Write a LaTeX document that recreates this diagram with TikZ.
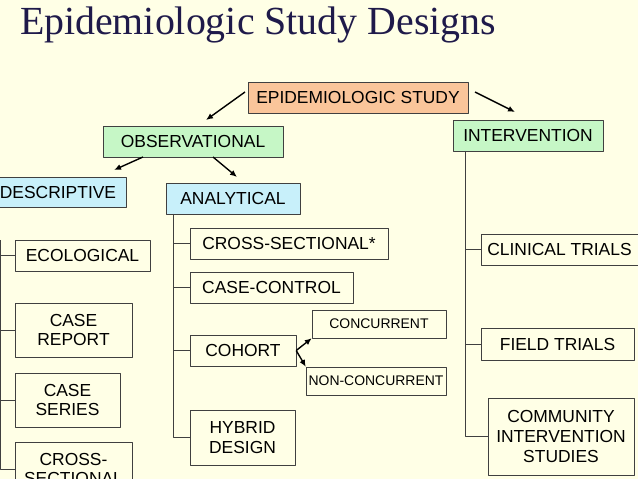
\documentclass[tikz,border=0pt]{standalone}
\usepackage{fontspec}
\setmainfont{Liberation Sans}
\newfontfamily\titlefont{Liberation Serif}
\definecolor{pagebg}{HTML}{FFFFE6}
\definecolor{rootfill}{HTML}{FAC59A}
\definecolor{midfill}{HTML}{C6F7C6}
\definecolor{lowfill}{HTML}{C8F0FA}
\definecolor{titlecol}{HTML}{1F1A4A}
\tikzset{
  box/.style={draw=black!75,inner sep=0pt,align=center,font=\fontsize{17.5}{20}\selectfont},
  smallbox/.style={box,font=\fontsize{14}{16}\selectfont},
  arr/.style={-{Latex[length=7bp,width=6bp]},line width=1.4bp},
  tree/.style={draw=black!75}
}
\usetikzlibrary{arrows.meta}
\begin{document}
\begin{tikzpicture}[x=1bp,y=-1bp,line join=bevel]
\fill[pagebg] (0,0) rectangle (638,479);
\useasboundingbox (0,0) rectangle (638,479);
\begin{scope}
\clip (0,0) rectangle (638,479);
\node (title) at (258,25) [anchor=center,text=titlecol,font=\titlefont\fontsize{40}{44}\selectfont] {Epidemiologic Study Designs};
%%
\node (study) at (358,97.5) [box,fill=rootfill,minimum width=220bp,minimum height=31bp] {EPIDEMIOLOGIC STUDY};
\node (obs) at (193,141.5) [box,fill=midfill,minimum width=180bp,minimum height=31bp] {OBSERVATIONAL};
\node (interv) at (528,135.5) [box,fill=midfill,minimum width=150bp,minimum height=31bp] {INTERVENTION};
\node (descr) at (58,192) [box,fill=lowfill,minimum width=136bp,minimum height=30bp] {DESCRIPTIVE};
\node (analyt) at (233,198.5) [box,fill=lowfill,minimum width=134bp,minimum height=31bp] {ANALYTICAL};
%
\node (ecol) at (82.5,255.5) [box,minimum width=135bp,minimum height=31bp] {ECOLOGICAL};
\node (crep) at (73.5,330) [box,minimum width=117bp,minimum height=54bp] {CASE\\REPORT};
\node (cser) at (67.5,400) [box,minimum width=105bp,minimum height=54bp] {CASE\\SERIES};
\node (xsec) at (73.5,469) [box,minimum width=117bp,minimum height=54bp] {CROSS-\\SECTIONAL};
%
\node (xsa) at (289,243.5) [box,minimum width=198bp,minimum height=31bp] {CROSS-SECTIONAL*};
\node (cctl) at (271.5,287.5) [box,minimum width=163bp,minimum height=31bp] {CASE-CONTROL};
\node (coh) at (243,350.5) [box,minimum width=106bp,minimum height=31bp] {COHORT};
\node (hyb) at (242.5,437.5) [box,minimum width=105bp,minimum height=55bp] {HYBRID\\DESIGN};
\node (conc) at (379,324) [smallbox,minimum width=134bp,minimum height=28bp] {CONCURRENT};
\node (nonc) at (376,381) [smallbox,minimum width=140bp,minimum height=28bp] {NON-CONCURRENT};
%
\node (clin) at (559.5,249.5) [box,minimum width=157bp,minimum height=31bp] {CLINICAL TRIALS};
\node (field) at (557.5,344) [box,minimum width=153bp,minimum height=32bp] {FIELD TRIALS};
\node (comm) at (561,436.5) [box,minimum width=146bp,minimum height=77bp] {COMMUNITY\\INTERVENTION\\STUDIES};
%
\coordinate (s1) at (245,92);  \coordinate (e1) at (206,120);
\coordinate (s2) at (475,92);  \coordinate (e2) at (515,112);
\coordinate (s3) at (143,157); \coordinate (e3) at (114,170);
\coordinate (s4) at (213,157); \coordinate (e4) at (237,177);
\draw [arr] (s1) -- (e1);
\draw [arr] (s2) -- (e2);
\draw [arr] (s3) -- (e3);
\draw [arr] (s4) -- (e4);
\draw [arr] (coh.east) -- (conc.south west);
\draw [arr] (coh.east) -- (nonc.north west);
%
\coordinate (dtop) at (0,240);
\coordinate (atop) at (173,214);
\coordinate (itop) at (465,151);
\draw [tree] (dtop) |- (xsec.west) (0,0|-ecol.west) -- (ecol.west) (0,0|-crep.west) -- (crep.west) (0,0|-cser.west) -- (cser.west);
\draw [tree] (atop) |- (hyb.west) (173,0|-xsa.west) -- (xsa.west) (173,0|-cctl.west) -- (cctl.west) (173,0|-coh.west) -- (coh.west);
\draw [tree] (itop) |- (comm.west) (465,0|-clin.west) -- (clin.west) (465,0|-field.west) -- (field.west);
\end{scope}
\end{tikzpicture}
\end{document}
